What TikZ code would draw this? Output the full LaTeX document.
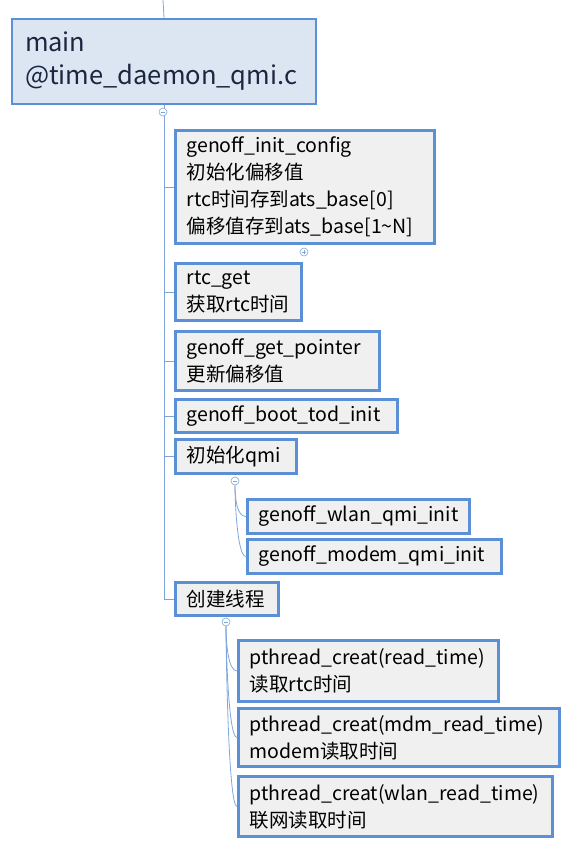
\documentclass[tikz,border=0pt]{standalone}
\usepackage{fontspec}
\setmainfont{Noto Sans CJK SC}
\definecolor{boxline}{HTML}{5B8FD6}
\definecolor{linkline}{HTML}{7FA6DB}
\definecolor{boxfill}{HTML}{F0F0F0}
\definecolor{mainfill}{HTML}{DCE6F2}
\definecolor{maintext}{HTML}{1B2740}
\begin{document}
\begin{tikzpicture}[x=1pt, y=-1pt,
    box/.style={draw=boxline, line width=3pt, fill=boxfill, anchor=north west, align=left,
        inner xsep=11pt, inner ysep=2pt, font=\fontsize{19.5}{27}\selectfont},
    mainbox/.style={draw=boxline, line width=2pt, fill=mainfill, anchor=north west, align=left,
        inner xsep=13pt, inner ysep=2pt, text=maintext, font=\fontsize{25.5}{33}\selectfont},
    link/.style={draw=linkline, line width=0.8pt},
    fold/.style={circle, draw=linkline, fill=white, line width=0.6pt, minimum size=8pt, inner sep=0pt},
    minus/.style={fold, path picture={\draw[linkline, line width=0.6pt]
        ([xshift=-2.3pt]path picture bounding box.center) -- ([xshift=2.3pt]path picture bounding box.center);}},
    plus/.style={minus, path picture={\draw[linkline, line width=0.6pt]
        ([xshift=-2.3pt]path picture bounding box.center) -- ([xshift=2.3pt]path picture bounding box.center)
        ([yshift=-2.3pt]path picture bounding box.center) -- ([yshift=2.3pt]path picture bounding box.center);}}]
    \useasboundingbox (0,0) rectangle (567,851);

    \coordinate (top) at (163,0);
    \node[mainbox, minimum height=85pt, text width=278pt] (main) at (11,18) {main\\@time\_daemon\_qmi.c};

    \node[box, minimum height=113pt, text width=237pt] (cfg) at (174,129)
        {genoff\_init\_config\\初始化偏移值\\rtc时间存到ats\_base[0]\\偏移值存到ats\_base[1\textasciitilde N]};
    \node[box, minimum height=57pt, text width=104pt] (rtc) at (174,262) {rtc\_get\\获取rtc时间};
    \node[box, minimum height=59pt, text width=182pt] (ptr) at (174,330) {genoff\_get\_pointer\\更新偏移值};
    \node[box, minimum height=33pt, text width=200pt] (tod) at (174,398) {genoff\_boot\_tod\_init};
    \node[box, minimum height=34pt, text width=99pt] (qmi) at (174,438) {初始化qmi};
    \node[box, minimum height=34pt, text width=200pt] (wlan) at (246,498) {genoff\_wlan\_qmi\_init};
    \node[box, minimum height=34pt, text width=232pt] (modem) at (246,538) {genoff\_modem\_qmi\_init};
    \node[box, minimum height=33pt, text width=81pt] (thread) at (174,581) {创建线程};
    \node[box, minimum height=61pt, text width=238pt] (rd) at (237,639) {pthread\_creat(read\_time)\\读取rtc时间};
    \node[box, minimum height=58pt, text width=299pt] (mdm) at (237,707) {pthread\_creat(mdm\_read\_time)\\modem读取时间};
    \node[box, minimum height=60pt, text width=292pt] (wlr) at (237,775) {pthread\_creat(wlan\_read\_time)\\联网读取时间};

    % trunk
    \draw[link] (top) -- (main.north);
    \draw[link] (main.south) |- (thread.west);
    \foreach \n in {cfg, rtc, ptr, tod, qmi}
        \draw[link] (main.south |- \n.west) -- (\n.west);

    % sub trees
    \node[minus] (mainfold) at (163,112) {};
    \node[plus] (cfgfold) at (304,252) {};
    \node[minus] (qmifold) at (235,481) {};
    \node[minus] (threadfold) at (226,622) {};
    \foreach \n in {wlan, modem}
        \draw[link] (qmifold.south) .. controls +(0,14) and +(-9,0) .. (\n.west);
    \foreach \n in {rd, mdm, wlr}
        \draw[link] (threadfold.south) .. controls +(0,16) and +(-9,0) .. (\n.west);
\end{tikzpicture}
\end{document}
